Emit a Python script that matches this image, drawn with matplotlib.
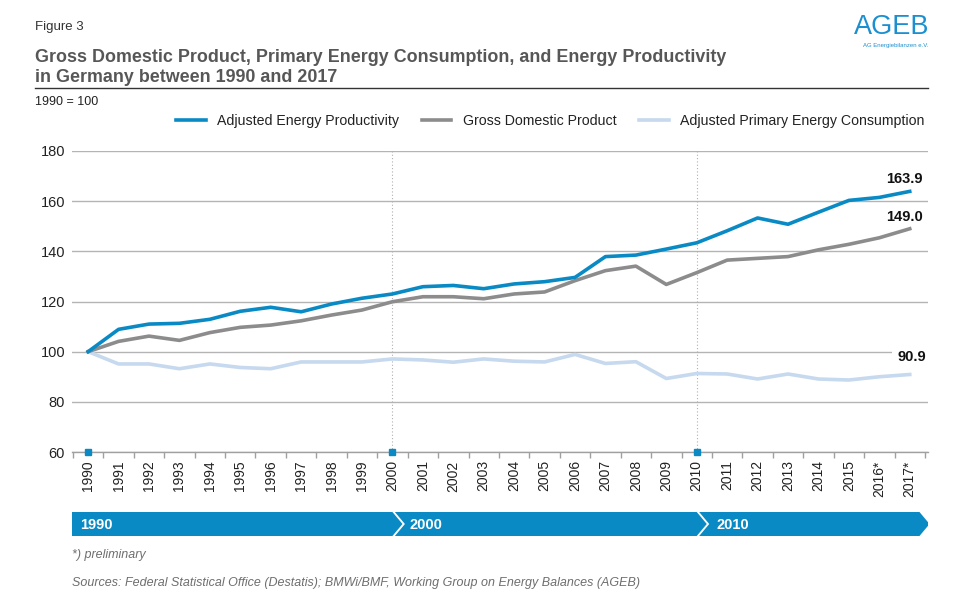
import matplotlib
matplotlib.use("Agg")
import matplotlib.pyplot as plt
from matplotlib.patches import Polygon
import numpy as np

years = list(range(1990, 2018))
year_labels = [str(y) for y in years[:-2]] + ["2016*", "2017*"]

productivity = [100, 108.9, 111.0, 111.3, 112.9, 116.1, 117.7, 115.9, 119.0, 121.3,
                123.0, 125.9, 126.4, 125.1, 127.0, 127.9, 129.6, 137.9, 138.5, 140.9,
                143.4, 148.2, 153.3, 150.8, 155.6, 160.3, 161.5, 163.9]
gdp = [100, 104.1, 106.2, 104.5, 107.6, 109.7, 110.6, 112.3, 114.6, 116.6,
       119.9, 121.9, 121.9, 121.1, 123.0, 123.8, 128.3, 132.3, 134.1, 126.8,
       131.5, 136.5, 137.2, 137.9, 140.6, 142.8, 145.4, 149.0]
consumption = [100, 95.1, 95.1, 93.2, 95.1, 93.7, 93.2, 95.9, 95.9, 95.9,
               97.1, 96.7, 95.8, 97.1, 96.2, 95.9, 98.9, 95.3, 96.0, 89.3,
               91.3, 91.1, 89.1, 91.1, 89.1, 88.7, 90.0, 90.9]
series_names = ["Adjusted Energy Productivity", "Gross Domestic Product",
                "Adjusted Primary Energy Consumption"]
decades = [1990, 2000, 2010]
yticks = [60, 80, 100, 120, 140, 160, 180]

BLUE = "#0a8ac4"
GRAY = "#8c8c8c"
LIGHT = "#c6d9ee"
FONT = ["Liberation Sans", "DejaVu Sans"]
plt.rcParams["font.family"] = FONT

W, H = 959, 606
fig = plt.figure(figsize=(W / 100, H / 100), dpi=100)

def fx(px):
    return px / W

def fy(py):
    return 1 - py / H

x0, x1 = 1989.47, 2017.6
ax = fig.add_axes([fx(72), fy(452), fx(928) - fx(72), fy(151) - fy(452)])
ax.set_xlim(x0, x1)
ax.set_ylim(60, 180)

for s in ["top", "right", "left"]:
    ax.spines[s].set_visible(False)
ax.spines["bottom"].set_color("#a0a0a0")
ax.spines["bottom"].set_linewidth(1.0)

ax.set_yticks(yticks)
ax.set_yticklabels([str(v) for v in yticks], fontsize=10.5, color="#222222")
ax.tick_params(axis="y", length=0, pad=5)
ax.yaxis.grid(True, color="#b4b4b4", linewidth=1.0)
ax.set_axisbelow(True)

ax.set_xticks(years)
ax.set_xticklabels(year_labels, rotation=90, fontsize=10, color="#222222")
ax.tick_params(axis="x", which="major", length=0, pad=6)
ax.set_xticks([y - 0.5 for y in years] + [years[-1] + 0.5], minor=True)
ax.tick_params(axis="x", which="minor", length=4, color="#a0a0a0", width=1)

for d in decades[1:]:
    ax.axvline(d, color="#b0b0b0", linestyle=(0, (1, 2)), linewidth=0.8, zorder=1)
ax.plot(decades, [60] * len(decades), "s", color=BLUE, markersize=5,
        clip_on=False, zorder=5)

l1, = ax.plot(years, productivity, color=BLUE, linewidth=2.6, zorder=4,
              solid_joinstyle="round")
l2, = ax.plot(years, gdp, color=GRAY, linewidth=2.6, zorder=3,
              solid_joinstyle="round")
l3, = ax.plot(years, consumption, color=LIGHT, linewidth=2.6, zorder=2,
              solid_joinstyle="round")

ax.text(2016.83, 168.8, f"{productivity[-1]:.1f}", ha="center", va="center",
        fontsize=10.5, fontweight="bold", color="#111111")
ax.text(2016.83, 153.7, f"{gdp[-1]:.1f}", ha="center", va="center",
        fontsize=10.5, fontweight="bold", color="#111111")
ax.text(2017.06, 97.9, f"{consumption[-1]:.1f}", ha="center", va="center",
        fontsize=10.5, fontweight="bold", color="#111111",
        bbox=dict(boxstyle="square,pad=0.35", fc="white", ec="none"), zorder=6)

leg = fig.legend([l1, l2, l3], series_names, loc="center right",
                 bbox_to_anchor=(fx(930), fy(121)), ncol=3, frameon=False,
                 fontsize=10.2, handlelength=2.1, handletextpad=0.8,
                 columnspacing=1.6, borderaxespad=0)
for t in leg.get_texts():
    t.set_color("#222222")

# timeline band
bax = fig.add_axes([fx(72), fy(536), fx(928) - fx(72), fy(512) - fy(536)])
bax.set_xlim(x0, x1)
bax.set_ylim(0, 1)
bax.axis("off")
tip = 0.33
gap = 0.08
edges = [x0] + decades[1:] + [2017.32]
for i in range(len(decades)):
    a, b = edges[i], edges[i + 1]
    if i == 0:
        pts = [(a, 0), (b, 0), (b + tip, 0.5), (b, 1), (a, 1)]
    else:
        s = a + gap
        pts = [(s, 0), (b, 0), (b + tip, 0.5), (b, 1), (s, 1), (s + tip, 0.5)]
    bax.add_patch(Polygon(pts, closed=True, fc=BLUE, ec="none"))
    lx = a + 0.27 if i == 0 else a + 0.57 + (0.09 if i == 2 else 0)
    bax.text(lx, 0.45, str(decades[i]), ha="left", va="center", color="white",
             fontsize=10.5, fontweight="bold")

# header
fig.text(fx(35), fy(27), "Figure 3", fontsize=9.5, color="#333333", va="center")
fig.text(fx(35), fy(57), "Gross Domestic Product, Primary Energy Consumption, and Energy Productivity",
         fontsize=12.9, fontweight="bold", color="#575757", va="center")
fig.text(fx(35), fy(77), "in Germany between 1990 and 2017",
         fontsize=12.9, fontweight="bold", color="#575757", va="center")
fig.add_artist(plt.Line2D([fx(35), fx(928)], [fy(88), fy(88)], color="#333333",
                          linewidth=1.0))
fig.text(fx(35), fy(102), "1990 = 100", fontsize=9, color="#222222", va="center")

fig.text(fx(929), fy(27), "AGEB", fontsize=19.5, color="#1b8fd0", ha="right",
         va="center")
fig.text(fx(928), fy(45), "AG Energiebilanzen e.V.", fontsize=4.3, color="#1b8fd0",
         ha="right", va="center")

fig.text(fx(72), fy(555), "*) preliminary", fontsize=9, style="italic",
         color="#6e6e6e", va="center")
fig.text(fx(72), fy(583),
         "Sources: Federal Statistical Office (Destatis); BMWi/BMF, Working Group on Energy Balances (AGEB)",
         fontsize=9, style="italic", color="#6e6e6e", va="center")

fig.savefig("out.png", dpi=100)
